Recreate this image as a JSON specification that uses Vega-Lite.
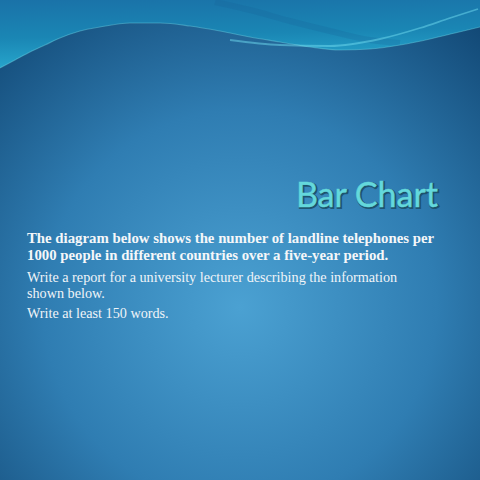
{
  "$schema": "https://vega.github.io/schema/vega-lite/v6.json",
  "width": 480,
  "height": 480,
  "padding": 0,
  "autosize": {"type": "fit", "contains": "padding"},
  "background": "#1d5f8e",
  "datasets": {
    "page": [
      {"x": 0, "y": 480}, {"x": 480, "y": 480}
    ],
    "wave": [
      {"x": 0, "y": 68}, {"x": 15, "y": 60}, {"x": 30, "y": 52}, {"x": 45, "y": 45},
      {"x": 60, "y": 38}, {"x": 80, "y": 31}, {"x": 100, "y": 27}, {"x": 130, "y": 23},
      {"x": 160, "y": 23}, {"x": 190, "y": 26}, {"x": 220, "y": 31}, {"x": 250, "y": 37},
      {"x": 280, "y": 42}, {"x": 310, "y": 47}, {"x": 340, "y": 50}, {"x": 370, "y": 49},
      {"x": 400, "y": 45}, {"x": 430, "y": 39}, {"x": 455, "y": 33}, {"x": 480, "y": 27}
    ],
    "streak": [
      {"x": 215, "y": 2}, {"x": 250, "y": 10}, {"x": 290, "y": 21}, {"x": 330, "y": 31}, {"x": 370, "y": 40}, {"x": 400, "y": 43}
    ],
    "glow": [
      {"x": 230, "y": 40}, {"x": 280, "y": 45}, {"x": 330, "y": 46}, {"x": 380, "y": 39},
      {"x": 420, "y": 28}, {"x": 450, "y": 18}, {"x": 478, "y": 9}
    ],
    "title": [
      {"edge": 1, "line": 0, "text": "Bar Chart"}
    ],
    "prompt": [
      {"edge": 0, "line": 1, "text": "The diagram below shows the number of landline telephones per"},
      {"edge": 0, "line": 2, "text": "1000 people in different countries over a five-year period."}
    ],
    "task": [
      {"edge": 0, "line": 3, "text": "Write a report for a university lecturer describing the information"},
      {"edge": 0, "line": 4, "text": "shown below."}
    ],
    "length": [
      {"edge": 0, "line": 5, "text": "Write at least 150 words."}
    ]
  },
  "layer": [
    {
      "encoding": {
        "x": {"field": "x", "type": "quantitative", "scale": {"domain": [0, 480], "nice": false}, "axis": null},
        "y": {"field": "y", "type": "quantitative", "scale": {"domain": [0, 480], "reverse": true, "nice": false}, "axis": null}
      },
      "layer": [
        {
          "data": {"name": "page"},
          "mark": {
            "type": "area",
            "color": {
              "gradient": "radial",
              "x1": 0.5, "y1": 0.64, "x2": 0.5, "y2": 0.64,
              "r1": 0, "r2": 0.82,
              "stops": [
                {"offset": 0, "color": "#4ba1d2"},
                {"offset": 0.5, "color": "#2f7db2"},
                {"offset": 1, "color": "#0e416d"}
              ]
            }
          },
          "encoding": {"y2": {"datum": 0}}
        },
        {
          "data": {"name": "wave"},
          "mark": {
            "type": "area",
            "interpolate": "monotone",
            "color": {
              "gradient": "linear",
              "x1": 0, "y1": 0, "x2": 0.15, "y2": 1,
              "stops": [
                {"offset": 0, "color": "#1a72a8"},
                {"offset": 0.55, "color": "#1a86b4"},
                {"offset": 1, "color": "#27a6cc"}
              ]
            }
          },
          "encoding": {"y2": {"datum": 0}}
        },
        {
          "data": {"name": "streak"},
          "mark": {"type": "line", "interpolate": "monotone", "color": "#165f96", "strokeWidth": 6, "opacity": 0.22, "clip": true},
          "encoding": {}
        },
        {
          "data": {"name": "glow"},
          "mark": {"type": "line", "interpolate": "monotone", "color": "#6fdcf0", "strokeWidth": 1.8, "opacity": 0.5, "clip": true},
          "encoding": {}
        },
        {
          "data": {"name": "wave"},
          "mark": {"type": "line", "interpolate": "monotone", "color": "#7fe6f2", "strokeWidth": 1.2, "opacity": 0.35, "clip": true},
          "encoding": {}
        }
      ]
    },
    {
      "encoding": {
        "x": {"field": "edge", "type": "quantitative", "scale": {"domain": [0, 1], "range": [27, 438]}, "axis": null},
        "y": {"field": "line", "type": "quantitative", "scale": {"domain": [1, 5], "range": [243, 309]}, "axis": null},
        "text": {"field": "text", "type": "nominal"}
      },
      "layer": [
        {
          "data": {"name": "title"},
          "mark": {
            "type": "text", "align": "right", "baseline": "alphabetic", "dy": -19, "dx": 1,
            "font": "Lato", "fontSize": 34,
            "color": "#1b4f68", "stroke": "#1b4f68", "strokeWidth": 2.2, "strokeOpacity": 0.85
          }
        },
        {
          "data": {"name": "title"},
          "mark": {
            "type": "text", "align": "right", "baseline": "alphabetic", "dy": -19.5,
            "font": "Lato", "fontSize": 34,
            "color": "#64d8dc", "stroke": "#64d8dc", "strokeWidth": 0.5
          }
        },
        {
          "data": {"name": "prompt"},
          "mark": {
            "type": "text", "align": "left", "baseline": "alphabetic",
            "font": "Liberation Serif", "fontSize": 14.8, "fontWeight": "bold", "color": "#f5f7f9"
          }
        },
        {
          "data": {"name": "task"},
          "mark": {
            "type": "text", "align": "left", "baseline": "alphabetic", "dy": 5.5,
            "font": "Liberation Serif", "fontSize": 14.2, "color": "#f0f4f8"
          }
        },
        {
          "data": {"name": "length"},
          "mark": {
            "type": "text", "align": "left", "baseline": "alphabetic", "dy": 9,
            "font": "Liberation Serif", "fontSize": 14.2, "color": "#f0f4f8"
          }
        }
      ]
    }
  ],
  "resolve": {"scale": {"x": "independent", "y": "independent"}},
  "config": {
    "view": {"stroke": null}
  }
}
